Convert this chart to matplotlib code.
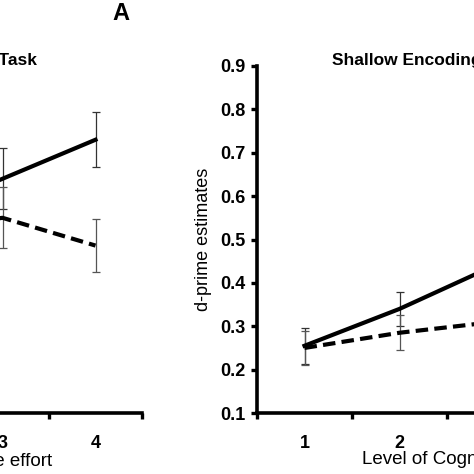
import matplotlib
matplotlib.use("Agg")
import matplotlib.pyplot as plt
import numpy as np

plt.rcParams['font.family'] = ['Liberation Sans', 'DejaVu Sans']

levels = [1, 2, 3, 4]
deep_solid = [0.45, 0.55, 0.64, 0.73]
deep_solid_err = [0.06, 0.06, 0.07, 0.064]
deep_dashed = [0.45, 0.52, 0.55, 0.486]
deep_dashed_err = [0.06, 0.06, 0.07, 0.062]
shallow_solid = [0.255, 0.34, 0.44, 0.50]
shallow_solid_err = [0.042, 0.04, 0.05, 0.05]
shallow_dashed = [0.25, 0.285, 0.31, 0.33]
shallow_dashed_err = [0.04, 0.04, 0.04, 0.04]
yticks = [0.1, 0.2, 0.3, 0.4, 0.5, 0.6, 0.7, 0.8, 0.9]

W = 474.0
fig = plt.figure(figsize=(4.74, 4.74), dpi=100)
ax_l = fig.add_axes([-230 / W, (474 - 413) / W, 372 / W, (413 - 66) / W])
ax_r = fig.add_axes([257 / W, (474 - 413) / W, 380 / W, (413 - 66) / W])

def style(ax, solid, serr, dashed, derr):
    ax.errorbar(levels, solid, yerr=serr, color='black', lw=3, ecolor='#333333',
                elinewidth=0.9, capsize=3, capthick=0.9)
    ax.errorbar(levels, dashed, yerr=derr, color='black', lw=3, ls=(0, (3, 1.5)),
                ecolor='#555555', elinewidth=0.9, capsize=3, capthick=0.9)
    ax.set_xlim(0.5, 4.5)
    ax.set_ylim(0.1, 0.9)
    ax.set_yticks(yticks)
    ax.set_yticklabels([f"{v:.1f}" for v in yticks])
    ax.set_xticks([0.5, 1.5, 2.5, 3.5, 4.5])
    ax.set_xticklabels([])
    ax.set_xticks(levels, minor=True)
    ax.set_xticklabels([str(v) for v in levels], minor=True, fontsize=13, fontweight='bold')
    ax.tick_params(axis='x', which='minor', length=0, pad=16)
    ax.tick_params(axis='both', which='major', length=4, width=2.4, direction='out', pad=4)
    for lab in ax.get_yticklabels():
        lab.set_fontsize(13); lab.set_fontweight('bold')
    for s in ['top', 'right']:
        ax.spines[s].set_visible(False)
    for s in ['left', 'bottom']:
        ax.spines[s].set_linewidth(2.6)
    ax.patch.set_alpha(0)

style(ax_l, deep_solid, deep_solid_err, deep_dashed, deep_dashed_err)
style(ax_r, shallow_solid, shallow_solid_err, shallow_dashed, shallow_dashed_err)
ax_r.set_ylabel('d-prime estimates', fontsize=13, labelpad=6)

fig.text(332 / W, 1 - 61 / W, 'Shallow Encoding Task', fontsize=12.5, fontweight='bold', va='center', ha='left')
fig.text(37 / W, 1 - 61 / W, 'Deep Encoding Task', fontsize=12.5, fontweight='bold', va='center', ha='right')
fig.text(121 / W, 1 - 13 / W, 'A', fontsize=17, fontweight='bold', va='center', ha='center')
fig.text(362 / W, 1 - 460 / W, 'Level of Cognitive effort', fontsize=13.5, va='center', ha='left')
fig.text(52 / W, 1 - 462 / W, 'Level of Cognitive effort', fontsize=13.5, va='center', ha='right')

fig.savefig('out.png', dpi=100)
